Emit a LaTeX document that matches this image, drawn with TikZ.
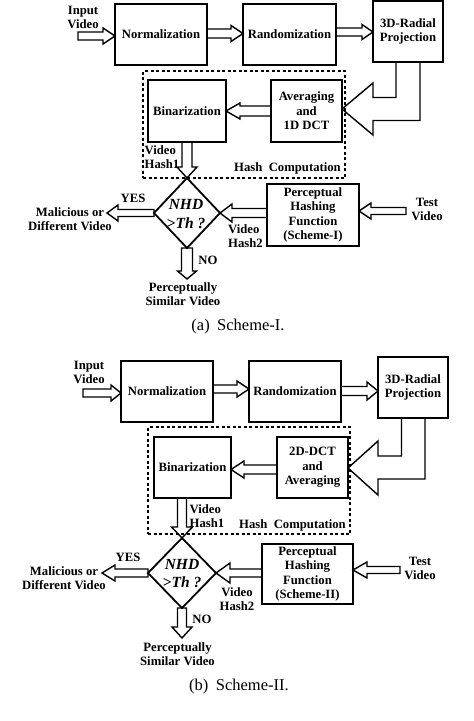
\documentclass[tikz,border=0pt]{standalone}
\usepackage{fontspec}
\setmainfont{Liberation Serif}
\usetikzlibrary{calc,shapes.geometric}
\tikzset{
 blk/.style={draw, line width=1.8pt, inner sep=0pt, outer sep=0pt, align=center, font=\bfseries\fontsize{12.7}{14.5}\selectfont},
 lbl/.style={inner sep=0pt, align=center, font=\bfseries\fontsize{12.7}{14}\selectfont},
 hollowline/.style={draw, line width=1.4pt, line join=miter},
 hashbox/.style={draw, line width=1.8pt, dash pattern=on 3pt off 2.5pt, inner sep=0pt, outer sep=0pt},
 dec/.style={draw, diamond, line width=1.8pt, inner sep=0pt, outer sep=0pt},
 nhd/.style={inner sep=0pt, align=center, font=\bfseries\itshape\fontsize{15.5}{18.5}\selectfont},
 capt/.style={inner sep=0pt, font=\fontsize{16.5}{18}\selectfont}
}
% hollow arrow: start, end, shaft half width, head half width, head length
\newcommand\harr[5]{%
 \coordinate (hA) at (#1);
 \coordinate (hB) at (#2);
 \coordinate (hH) at ($(hB)!#5!(hA)$);
 \draw[hollowline] ($(hA)!#3!90:(hB)$) -- ($(hH)!#3!-90:(hA)$) -- ($(hH)!#4!-90:(hA)$) -- (hB) -- ($(hH)!#4!90:(hA)$) -- ($(hH)!#3!90:(hA)$) -- ($(hA)!#3!-90:(hB)$) -- cycle;}
\begin{document}
\begin{tikzpicture}[x=1pt,y=-1pt]
\useasboundingbox[fill=white] (0,0) rectangle (474,721);
% ---------------- Scheme I ----------------
\node[blk, minimum width=92pt, minimum height=61pt] (n1) at (161,34.5) {Normalization};
\node[blk, minimum width=93pt, minimum height=61pt] (r1) at (289.5,34.5) {Randomization};
\node[blk, minimum width=70pt, minimum height=61pt] (p1) at (408,31.5) {3D-Radial\\Projection};
\node[hashbox, minimum width=202pt, minimum height=107pt] (h1) at (244,124.5) {};
\node[blk, minimum width=78pt, minimum height=62pt] (b1) at (187,111) {Binarization};
\node[blk, minimum width=71pt, minimum height=62pt] (a1) at (306.5,111) {Averaging\\and\\1D DCT};
\node[dec, minimum width=66pt, minimum height=70pt] (d1) at (187,213) {};
\node[nhd] (t1) at (186,214) {NHD\\>Th ?};
\node[blk, minimum width=92pt, minimum height=62pt] (f1) at (313,215) {Perceptual\\Hashing\\Function\\(Scheme-I)};

\node[lbl] (in1) at (83,17) {Input\\Video};
\node[lbl] (yes1) at (133,198) {YES};
\node[lbl] (mal1) at (70,219) {Malicious or\\Different Video};
\node[lbl] (no1t) at (208,260) {NO};
\node[lbl] (ps1) at (183,294.5) {Perceptually\\Similar Video};
\node[lbl, align=left, anchor=west] (vh2a) at (228,236.5) {Video\\Hash2};
\node[lbl] (tv1) at (427,209.5) {Test\\Video};
\node[lbl, align=left, anchor=west] (vh1a) at (144.5,157) {Video\\Hash1};
\node[lbl, anchor=east] (hc1) at (341,168) {Hash\ \ Computation};
\node[capt] (cap1) at (238,327) {(a)\hspace{0.45em}Scheme-I.};

\coordinate (in1s) at (78,36);
\harr{in1s}{n1.west |- in1s}{4pt}{8pt}{12pt}
\harr{$(n1.east)+(0,-1)$}{$(r1.west)+(0,-1)$}{4.5pt}{8pt}{12pt}
\harr{$(r1.east)+(0,-2.5)$}{$(p1.west)+(0,0.5)$}{4pt}{7.5pt}{11pt}
\harr{a1.west}{b1.east}{5pt}{8pt}{14pt}
\harr{d1.north |- b1.south}{d1.north}{5pt}{10pt}{11pt}
\coordinate (y1) at (107,213);
\harr{d1.west}{y1}{3.5pt}{8pt}{11pt}
\harr{f1.west |- d1.east}{d1.east}{4.5pt}{9pt}{12pt}
\coordinate (ts1) at (406,211);
\harr{ts1}{f1.east |- ts1}{3.5pt}{8pt}{12pt}
\coordinate (no1) at (187,279);
\harr{d1.south}{no1}{5.5pt}{9.5pt}{8pt}
\coordinate (T1) at ($(a1.east)+(0,-2)$);
\draw[hollowline] ($(p1.south)+(-12,0)$) |- ($(T1)+(31,-11.5)$) -- ($(T1)+(31,-26)$) -- (T1) -- ($(T1)+(31,26)$) -- ($(T1)+(31,11.5)$) -| ($(p1.south)+(12,0)$);

% ---------------- Scheme II ----------------
\node[blk, minimum width=92pt, minimum height=61pt] (n2) at (167,391.5) {Normalization};
\node[blk, minimum width=92pt, minimum height=61pt] (r2) at (295,391.5) {Randomization};
\node[blk, minimum width=70pt, minimum height=61pt] (p2) at (413,387.5) {3D-Radial\\Projection};
\node[hashbox, minimum width=202pt, minimum height=107pt] (h2) at (249,480.5) {};
\node[blk, minimum width=77pt, minimum height=61pt] (b2) at (192.5,467.5) {Binarization};
\node[blk, minimum width=71pt, minimum height=61pt] (a2) at (312.5,467.5) {2D-DCT\\and\\Averaging};
\node[dec, minimum width=68pt, minimum height=70pt] (d2) at (182,573) {};
\node[nhd] (t2) at (182,573.5) {NHD\\>Th ?};
\node[blk, minimum width=91pt, minimum height=60pt] (f2) at (307.5,574) {Perceptual\\Hashing\\Function\\(Scheme-II)};

\node[lbl] (in2) at (89,372) {Input\\Video};
\node[lbl] (yes2) at (128,557) {YES};
\node[lbl] (mal2) at (64,578.5) {Malicious or\\Different Video};
\node[lbl] (no2t) at (202,619) {NO};
\node[lbl] (ps2) at (177.5,654.5) {Perceptually\\Similar Video};
\node[lbl] (vh2b) at (237,599) {Video\\Hash2};
\node[lbl] (tv2) at (420,568.5) {Test\\Video};
\node[lbl, align=left, anchor=west] (vh1b) at (189.5,516) {Video\\Hash1};
\node[lbl, anchor=east] (hc2) at (346,525) {Hash\ \ Computation};
\node[capt] (cap2) at (239,687) {(b)\hspace{0.45em}Scheme-II.};

\coordinate (in2s) at (83,393);
\harr{in2s}{n2.west |- in2s}{4pt}{8pt}{10pt}
\harr{$(n2.east)+(0,-2.5)$}{$(r2.west)+(0,-2.5)$}{4pt}{8pt}{12pt}
\harr{$(r2.east)+(0,-0.5)$}{$(p2.west)+(0,3.5)$}{4.5pt}{9pt}{11pt}
\harr{$(a2.west)+(0,2)$}{$(b2.east)+(0,2)$}{4.5pt}{8.5pt}{13pt}
\harr{d2.north |- b2.south}{d2.north}{4.5pt}{10.5pt}{11pt}
\coordinate (y2) at (102,573);
\harr{d2.west}{y2}{4pt}{8pt}{13pt}
\harr{f2.west |- d2.east}{d2.east}{4pt}{10pt}{14pt}
\coordinate (ts2) at (400,570);
\harr{ts2}{f2.east |- ts2}{3.5pt}{8pt}{14pt}
\coordinate (no2) at (182,638);
\harr{d2.south}{no2}{4.5pt}{10pt}{11pt}
\coordinate (T2) at ($(a2.east)+(0,0.5)$);
\draw[hollowline] ($(p2.south)+(-11.5,0)$) |- ($(T2)+(30,-12)$) -- ($(T2)+(30,-27)$) -- (T2) -- ($(T2)+(30,27)$) -- ($(T2)+(30,11)$) -| ($(p2.south)+(12,0)$);
\end{tikzpicture}
\end{document}
